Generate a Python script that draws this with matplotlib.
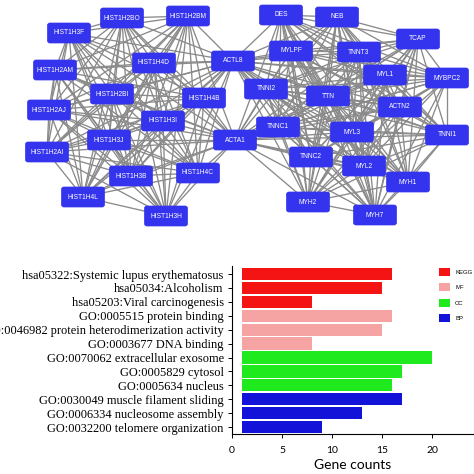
import matplotlib
matplotlib.use("Agg")
import matplotlib.pyplot as plt
from matplotlib.patches import FancyBboxPatch, Patch
from itertools import combinations

# ---------------- network data ----------------
histone_nodes = ["HIST1H2BO", "HIST1H2BM", "HIST1H3F", "HIST1H2AM", "HIST1H4D",
                 "HIST1H2BI", "HIST1H4B", "HIST1H2AJ", "HIST1H3I", "HIST1H3J",
                 "HIST1H2AI", "HIST1H3B", "HIST1H4C", "HIST1H4L", "HIST1H3H"]
muscle_nodes = ["DES", "NEB", "TCAP", "MYLPF", "TNNT3", "MYL1", "MYBPC2", "TNNI2",
                "TTN", "ACTN2", "TNNC1", "MYL3", "TNNI1", "TNNC2", "MYL2", "MYH1",
                "MYH2", "MYH7"]
bridge_nodes = ["ACTL8", "ACTA1"]

# layout positions (pixel-like layout coordinates)
layout = {
    "HIST1H2BO": (122, 18), "HIST1H2BM": (188, 16), "HIST1H3F": (69, 33),
    "HIST1H2AM": (55, 70), "HIST1H4D": (154, 63), "HIST1H2BI": (112, 94),
    "HIST1H4B": (204, 98), "HIST1H2AJ": (49, 110), "HIST1H3I": (163, 121),
    "HIST1H3J": (109, 140), "HIST1H2AI": (47, 152), "HIST1H3B": (131, 176),
    "HIST1H4C": (198, 173), "HIST1H4L": (83, 197), "HIST1H3H": (166, 216),
    "ACTL8": (233, 61), "ACTA1": (235, 140),
    "DES": (281, 15), "NEB": (337, 17), "TCAP": (418, 39), "MYLPF": (291, 51),
    "TNNT3": (359, 52), "MYL1": (385, 75), "MYBPC2": (447, 78), "TNNI2": (266, 89),
    "TTN": (328, 96), "ACTN2": (400, 107), "TNNC1": (278, 127), "MYL3": (352, 132),
    "TNNI1": (447, 135), "TNNC2": (311, 157), "MYL2": (364, 166), "MYH1": (408, 182),
    "MYH2": (308, 202), "MYH7": (375, 215),
}

edges = list(combinations(histone_nodes, 2)) + list(combinations(muscle_nodes, 2))
for b in bridge_nodes:
    edges += [(b, n) for n in histone_nodes + muscle_nodes]

# ---------------- bar chart data ----------------
terms = ["hsa05322:Systemic lupus erythematosus", "hsa05034:Alcoholism",
         "hsa05203:Viral carcinogenesis", "GO:0005515 protein binding",
         "GO:0046982 protein heterodimerization activity", "GO:0003677 DNA binding",
         "GO:0070062 extracellular exosome", "GO:0005829 cytosol",
         "GO:0005634 nucleus", "GO:0030049 muscle filament sliding",
         "GO:0006334 nucleosome assembly", "GO:0032200 telomere organization"]
counts = [16, 15, 8, 16, 15, 8, 20, 17, 16, 17, 13, 9]
categories = ["KEGG"] * 3 + ["MF"] * 3 + ["CC"] * 3 + ["BP"] * 3
cat_colors = {"KEGG": "#f41414", "MF": "#f5a3a3", "CC": "#1eea1e", "BP": "#1212d8"}
bar_base = 1
xticks = [0, 5, 10, 15, 20]

W = H = 474
fig = plt.figure(figsize=(4.74, 4.74), dpi=100)
fig.patch.set_facecolor("white")

# ---------------- network ----------------
NH = 235
axn = fig.add_axes([0, (H - NH) / H, 1, NH / H])
axn.set_xlim(0, W)
axn.set_ylim(NH, 0)
axn.axis("off")
for a, b in edges:
    (x1, y1), (x2, y2) = layout[a], layout[b]
    axn.plot([x1, x2], [y1, y2], color="#8a8a8a", lw=0.95, zorder=1, solid_capstyle="butt")
bw, bh = 43, 20
for name, (x, y) in layout.items():
    box = FancyBboxPatch((x - bw / 2, y - bh / 2), bw, bh,
                         boxstyle="round,pad=0,rounding_size=2.5",
                         facecolor="#3434ee", edgecolor="#3434ee", lw=0.5, zorder=3)
    axn.add_patch(box)
    axn.text(x, y, name, color="white", fontsize=4.8, ha="center", va="center",
             family="Liberation Sans", zorder=4)

# ---------------- bar chart ----------------
left_px, right_px = 232, 474
top_px, bot_px = 266.4, 434
axb = fig.add_axes([left_px / W, (H - bot_px) / H, (right_px - left_px) / W,
                    (bot_px - top_px) / H])
ypos = list(range(len(terms)))
colors = [cat_colors[c] for c in categories]
axb.barh(ypos, [c - bar_base for c in counts], left=bar_base, height=0.88,
         color=colors, edgecolor="none")
axb.set_ylim(11.5, -0.55)
axb.set_xlim(0, 24.2)
axb.set_yticks(ypos)
axb.set_yticklabels(terms, family="Liberation Serif", fontsize=8.9)
axb.set_xticks(xticks)
axb.set_xticklabels([str(t) for t in xticks], family="Lato", fontsize=7.5)
axb.set_xlabel("Gene counts", family="Lato", fontsize=10, labelpad=3)
for s in ["top", "right"]:
    axb.spines[s].set_visible(False)
for s in ["left", "bottom"]:
    axb.spines[s].set_linewidth(0.8)
axb.tick_params(axis="y", length=3, width=0.7, pad=3)
axb.tick_params(axis="x", length=3, width=0.7, pad=5.5)

handles = [Patch(facecolor=cat_colors[k], edgecolor="none", label=k)
           for k in ["KEGG", "MF", "CC", "BP"]]
fig.legend(handles=handles, loc="upper left", bbox_to_anchor=(436 / W, 1 - 265 / H),
           frameon=False, prop={"family": "Liberation Sans", "size": 4.3},
           handlelength=1.8, handleheight=1.6, labelspacing=1.3, handletextpad=0.9,
           borderpad=0)

fig.savefig("out.png", dpi=100, facecolor="white")
